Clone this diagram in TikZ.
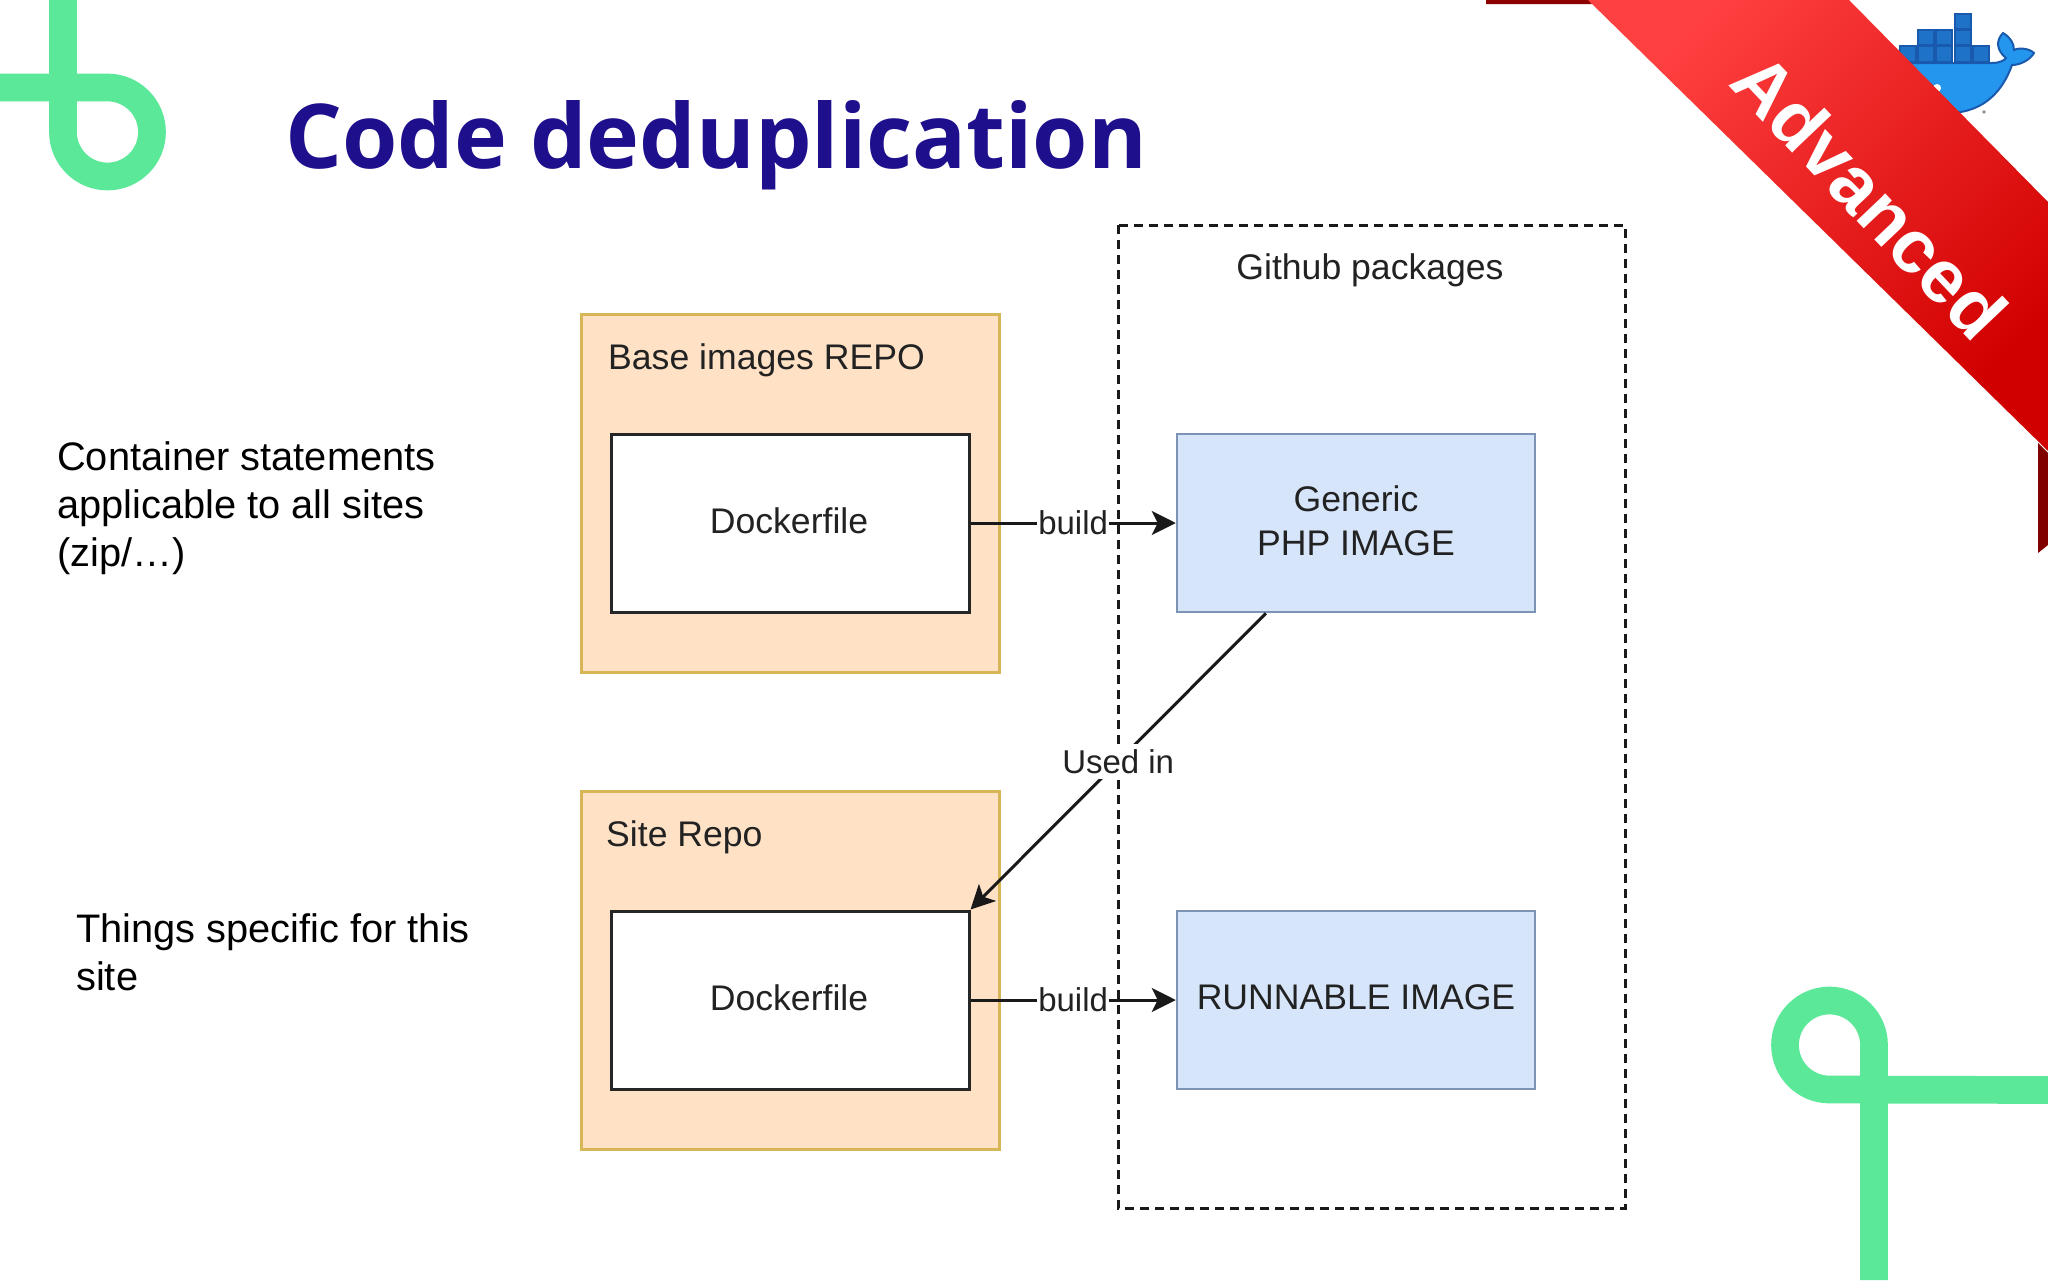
\documentclass[tikz,border=0pt]{standalone}
\usepackage{fontspec}
\setmainfont{Liberation Sans}
\newfontfamily\titlefont{Open Sans}
\usetikzlibrary{arrows.meta}
\usetikzlibrary{calc}
\definecolor{loopgreen}{HTML}{5BE898}
\definecolor{titleblue}{HTML}{1E0F8C}
\definecolor{repofill}{HTML}{FFE2C6}
\definecolor{repoline}{HTML}{D6B656}
\definecolor{imgfill}{HTML}{D6E5FA}
\definecolor{imgline}{HTML}{7C93B3}
\definecolor{inktext}{HTML}{222222}
\definecolor{whaleblue}{HTML}{2496ED}
\definecolor{crateline}{HTML}{1A5AAE}
\tikzset{x=1pt,y=-1pt,
  loopline/.style={draw=loopgreen,line width=27.7pt},
  repobox/.style={draw=repoline,line width=3pt,fill=repofill,minimum width=418pt,minimum height=358pt,inner sep=0pt},
  repotext/.style={anchor=base west,inner sep=0pt,font=\fontsize{35.6}{42}\selectfont,text=inktext},
  filebox/.style={draw=black!85,line width=3pt,fill=white,minimum width=358pt,minimum height=178pt,inner sep=0pt,font=\fontsize{35.6}{42}\selectfont,text=inktext},
  imgbox/.style={draw=imgline,line width=2.5pt,fill=imgfill,minimum width=358pt,minimum height=178pt,inner sep=0pt,align=center,font=\fontsize{35.6}{44}\selectfont,text=inktext},
  edgetext/.style={fill=white,inner xsep=1pt,inner ysep=5pt,font=\fontsize{33}{40}\selectfont,text=inktext},
  flow/.style={draw=black!90,line width=3pt,-{Stealth[length=24pt,width=24pt,inset=6pt]}},
  noteline/.style={anchor=north west,align=left,inner sep=0pt,font=\fontsize{39.8}{48}\selectfont},
  crate/.style={draw=crateline,line width=2pt,fill=crateline!60!whaleblue}}

\begin{document}
\begin{tikzpicture}
  \useasboundingbox (0,0) rectangle (2048,1280);
  \fill[white] (0,0) rectangle (2048,1280);
  % corner loops
  \draw[loopline] (63,0) -- (63,132) arc[start angle=180,delta angle=270,radius=44.5pt] -- (0,87.5);
  \draw[loopline] (1874,1280) -- (1874,1045) arc[start angle=0,delta angle=270,radius=44.5pt] -- (2048,1090);
  \node[anchor=base west,inner sep=0pt,font=\titlefont\bfseries\fontsize{89.5}{100}\selectfont,text=titleblue] (title) at (285,168) {Code deduplication};
  % whale
  \draw[crateline,line width=2pt,fill=whaleblue] (1895,63) -- (1992,63) .. controls (2000,63) and (2005,60) .. (2006,58) .. controls (1996,50) and (1996,40) .. (2003,33) .. controls (2010,37) and (2014,43) .. (2014,50) .. controls (2020,47) and (2030,49) .. (2034,53) .. controls (2030,60) and (2020,65) .. (2012,65) .. controls (2003,90) and (1985,112) .. (1950,113) .. controls (1920,113) and (1900,90) .. (1895,63) -- cycle;
  \foreach \i in {0,...,4}
    \draw[crate] (1900+\i*18.2,46) rectangle ++(16,16);
  \foreach \i in {1,...,3}
    \draw[crate] (1900+\i*18.2,30) rectangle ++(16,15);
  \draw[crate] (1954.6,14) rectangle ++(16,15);
  \fill[white] (1937,88) circle (4pt);
  \fill[black!45] (1984,112) circle (1.8pt);
  % ribbon
  \fill[red!55!black] (1486,0) -- (1589,0) -- (1592,4) -- (1486,4) -- cycle;
  \fill[red!50!black] (2038,443) -- (2048,453) -- (2048,545) -- (2038,553) -- cycle;
  \shade[left color=red!75!white,middle color=red,right color=red!82!black,shading angle=45] (1588,0) -- (1849,0) -- (2048,202) -- (2048,451) -- cycle;
  \node[rotate=-46.5,text=white,inner sep=0pt,font=\bfseries\fontsize{75}{80}\selectfont] (ribbonlabel) at (1870,196) {Advanced};
  % repos
  \node[repobox] (baserepo) at (790,493.5) {};
  \node[repobox] (siterepo) at (790,970) {};
  \node[repotext] (baselabel) at (608,369) {Base images REPO};
  \node[repotext] (sitelabel) at (606,846) {Site Repo};
  \node[filebox,text depth=0pt] (basefile) at (790,523) {};
  \node[filebox] (sitefile) at (790,1000) {};
  \node[font=\fontsize{35.6}{42}\selectfont,text=inktext,inner sep=0pt] (basename) at ($(basefile)+(-1,-2.5)$) {Dockerfile};
  \node[font=\fontsize{35.6}{42}\selectfont,text=inktext,inner sep=0pt] (sitename) at ($(sitefile)+(-1,-2.5)$) {Dockerfile};
  % packages
  \draw[dashed,black!90,line width=3pt,dash pattern=on 9pt off 6pt] (1118,225) rectangle (1625,1208);
  \node[anchor=base,inner sep=0pt,font=\fontsize{35.6}{42}\selectfont,text=inktext] (pkglabel) at (1370,279) {Github packages};
  \node[imgbox] (phpimg) at (1356,523) {};
  \node[imgbox] (runimg) at (1356,1000) {};
  \node[align=center,font=\fontsize{35.6}{44}\selectfont,text=inktext,inner sep=0pt] (phpname) at ($(phpimg)+(0,-2.5)$) {Generic\\PHP IMAGE};
  \node[font=\fontsize{35.6}{44}\selectfont,text=inktext,inner sep=0pt] (runname) at ($(runimg)+(0,-2.5)$) {RUNNABLE IMAGE};
  \draw[flow] (basefile) -- node[edgetext] (buildone) {build} (phpimg);
  \draw[flow] (sitefile) -- node[edgetext] (buildtwo) {build} (runimg);
  \draw[flow] ($(phpimg.south west)!0.25!(phpimg.south east)$) -- node[edgetext] (usedin) {Used in} (sitefile.north east);
  % notes
  \node[noteline] (notebase) at (57,441) {Container statements\\applicable to all sites\\(zip/\ldots)};
  \node[noteline] (notesite) at (76,913) {Things specific for this\\site};
\end{tikzpicture}
\end{document}
